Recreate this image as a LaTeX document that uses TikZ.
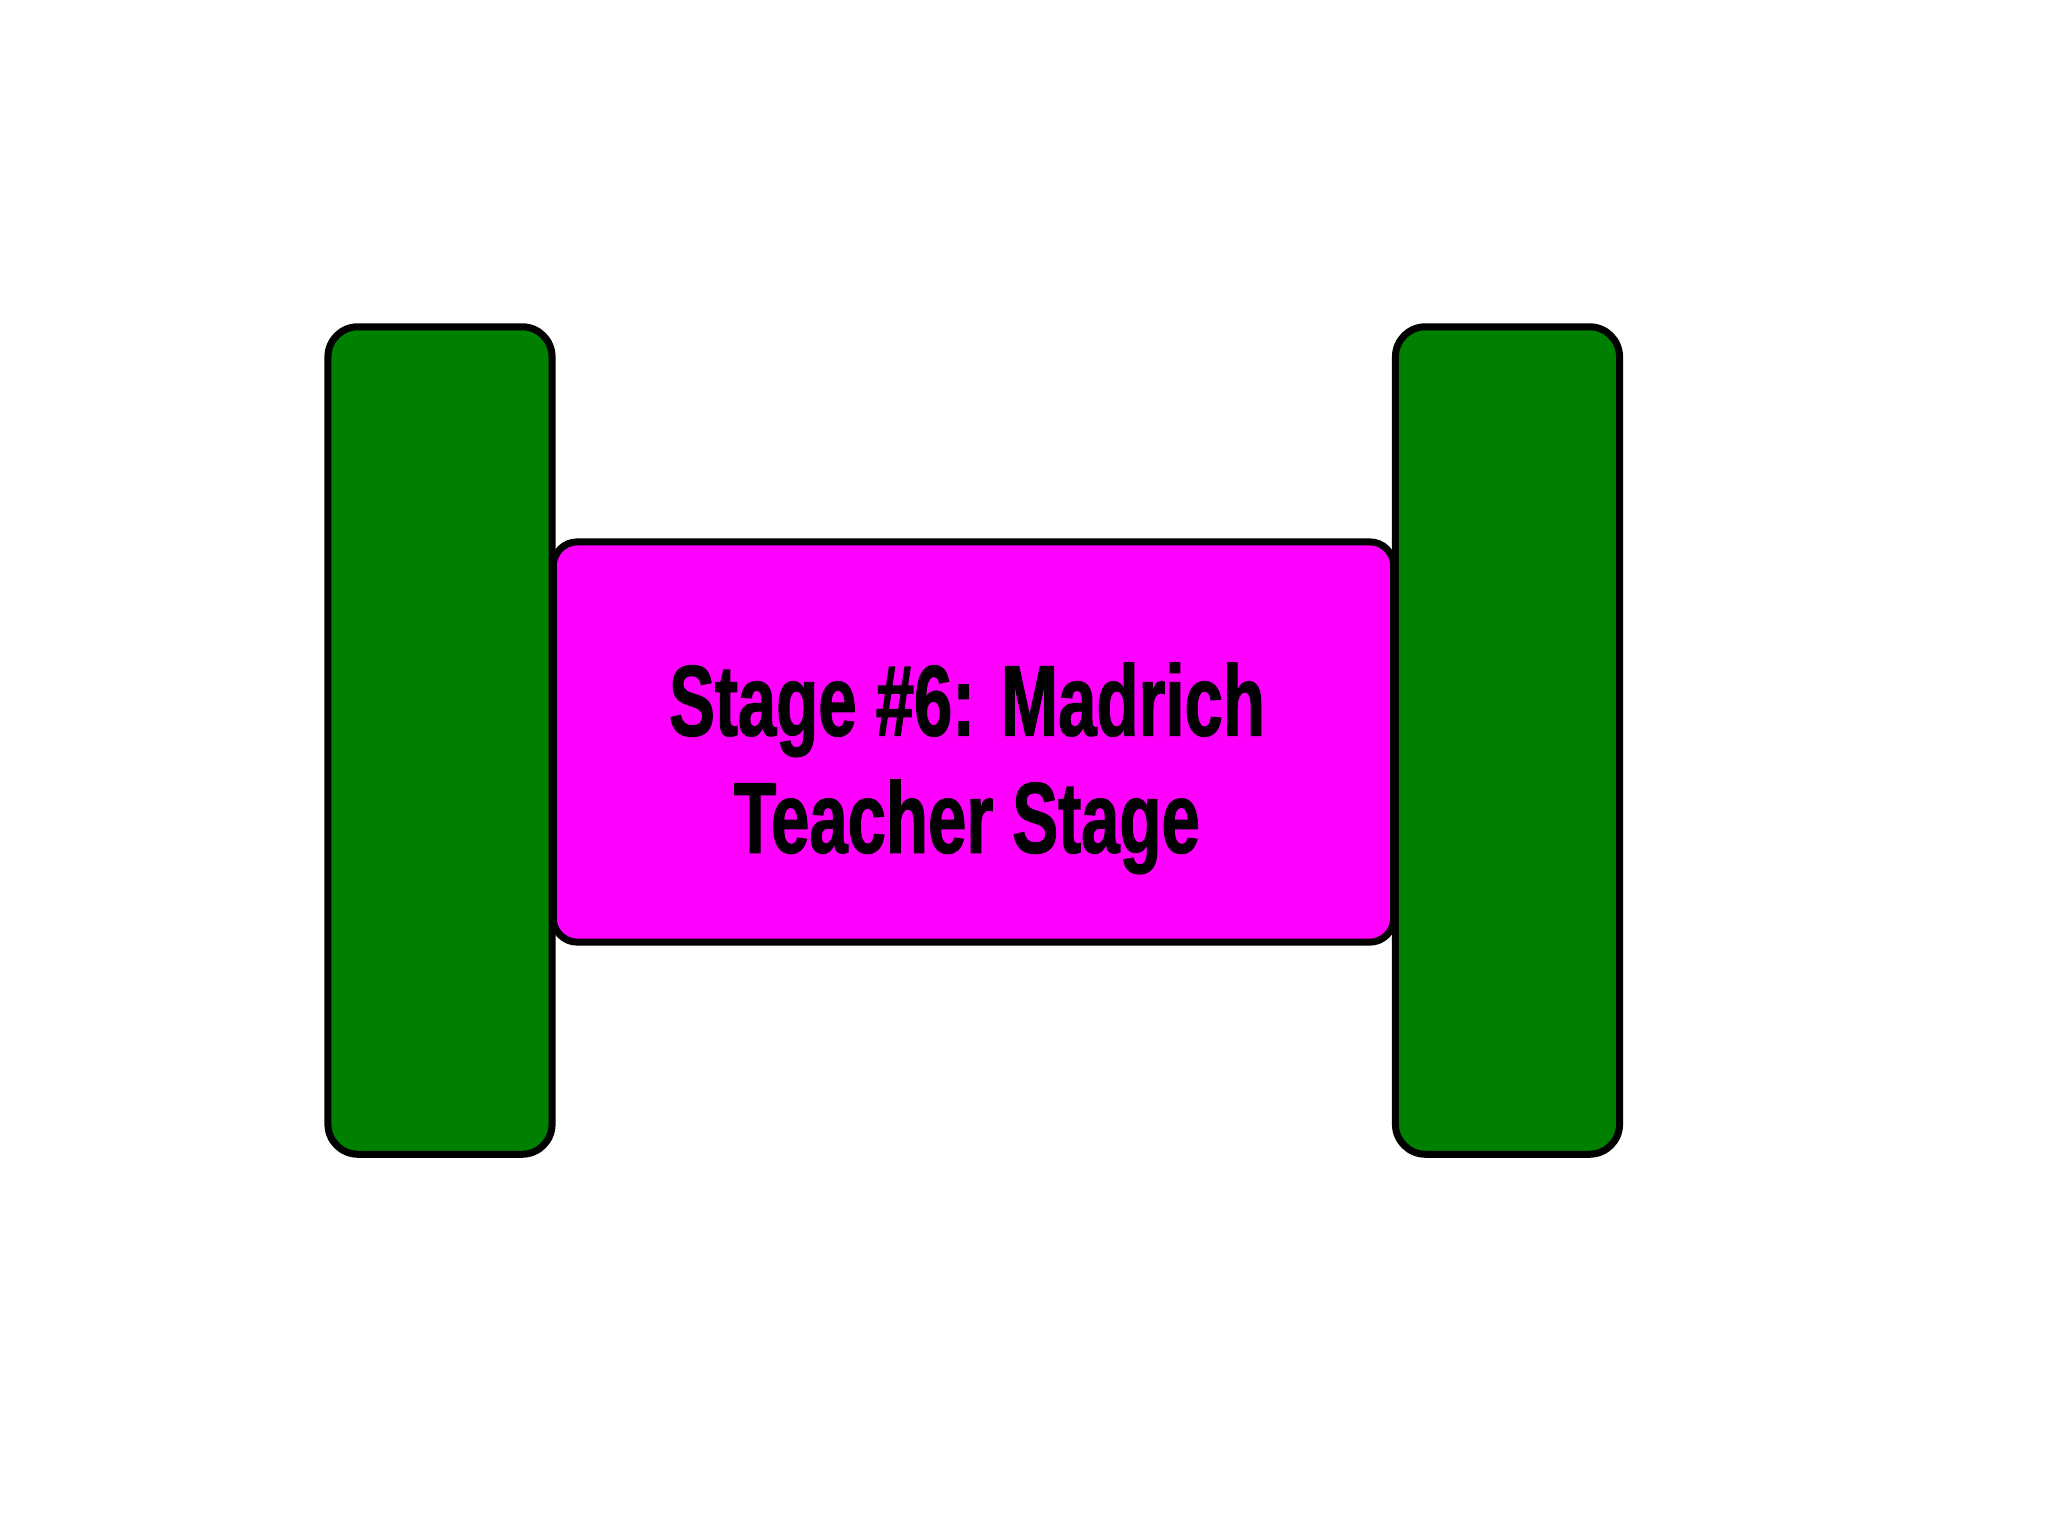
\documentclass[tikz,border=0pt]{standalone}
\usepackage{fontspec}
\newfontfamily\stagefont{Liberation Sans}[FakeStretch=0.685, FakeBold=1.2]
\definecolor{postgreen}{HTML}{008000}
\definecolor{stagepink}{HTML}{FF00FF}
\begin{document}
\begin{tikzpicture}[x=0.01cm, y=-0.01cm]
    \tikzset{
        post/.style={draw=black, line width=2pt, fill=postgreen, rounded corners=0.3cm,
            minimum width=2.24cm, minimum height=8.27cm, inner sep=0pt},
        stagebox/.style={draw=black, line width=2pt, fill=stagepink, rounded corners=0.24cm,
            minimum width=8.4cm, minimum height=4cm, inner sep=0pt},
        stagetext/.style={align=center, inner sep=0pt, anchor=north,
            font={\stagefont\bfseries\fontsize{28.6pt}{33.3pt}\selectfont}}
    }
    \useasboundingbox (0,0) rectangle (2048,1535);
    \node (stage) [stagebox] at (973.5,742) {};
    \node (leftpost) [post] at (440,740.5) {};
    \node (rightpost) [post] at (1507.5,740.5) {};
    \node (stagelabel) [stagetext] at (967,662) {Stage \#6: Madrich\\Teacher Stage};
\end{tikzpicture}
\end{document}
